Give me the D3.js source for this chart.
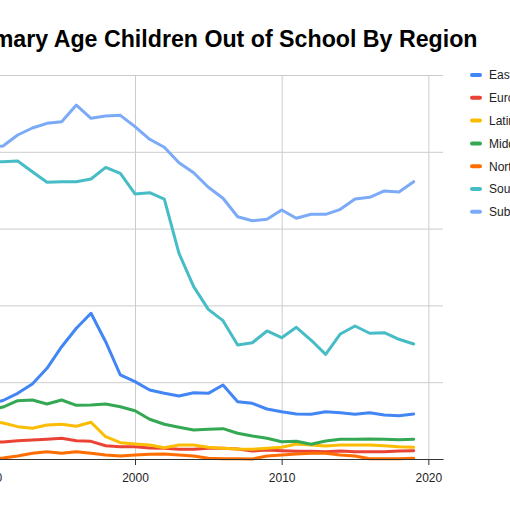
<!DOCTYPE html>
<html>
<head>
<meta charset="utf-8">
<script src="https://cdn.jsdelivr.net/npm/d3@7"></script>
<style>
  html, body { margin: 0; padding: 0; background: #fff; overflow: hidden; }
  svg { display: block; font-family: "Liberation Sans", Arial, sans-serif; }
  .grid line { stroke: #cccccc; stroke-width: 1; }
  .grid path { display: none; }
  .x-axis text, .legend text { fill: #222; font-size: 12px; }
  .region-line { fill: none; stroke-width: 3; stroke-linejoin: round; stroke-linecap: round; }
</style>
</head>
<body>
<div id="chart"></div>
<script>

// Years on the x axis
let years = [1990, 1991, 1992, 1993, 1994, 1995, 1996, 1997, 1998, 1999,
             2000, 2001, 2002, 2003, 2004, 2005, 2006, 2007, 2008, 2009,
             2010, 2011, 2012, 2013, 2014, 2015, 2016, 2017, 2018, 2019];

// Regions, in legend order
let regions = ["East Asia & Pacific", "Europe & Central Asia", "Latin America & Caribbean",
               "Middle East & North Africa", "North America", "South Asia", "Sub-Saharan Africa"];

// Out of school children, millions
let eastAsia = [7.16, 7.62, 8.55, 9.77, 11.81, 14.62, 17.02, 18.97, 15.27, 10.94,
                10.07, 8.98, 8.55, 8.20, 8.63, 8.55, 9.64, 7.46, 7.25, 6.51,
                6.16, 5.86, 5.82, 6.16, 6.03, 5.82, 6.03, 5.73, 5.64, 5.86];
let europe = [2.15, 2.21, 2.38, 2.47, 2.57, 2.70, 2.38, 2.30, 1.73, 1.60,
              1.60, 1.43, 1.39, 1.26, 1.26, 1.39, 1.39, 1.30, 1.04, 1.17,
              1.08, 1.00, 1.00, 0.95, 1.04, 0.95, 0.95, 0.95, 1.04, 1.08];
let latinAmerica = [4.95, 4.69, 4.21, 4.00, 4.43, 4.52, 4.26, 4.78, 2.90, 2.12,
                    1.95, 1.82, 1.47, 1.82, 1.82, 1.52, 1.39, 1.30, 1.26, 1.39,
                    1.52, 1.95, 1.82, 1.69, 1.82, 1.82, 1.82, 1.73, 1.60, 1.52];
let middleEast = [6.38, 6.77, 7.59, 7.68, 7.16, 7.68, 6.99, 7.03, 7.16, 6.81,
                  6.29, 5.17, 4.52, 4.13, 3.78, 3.87, 3.95, 3.35, 2.99, 2.70,
                  2.25, 2.30, 1.91, 2.34, 2.57, 2.57, 2.60, 2.57, 2.51, 2.57];
let northAmerica = [0.05, 0.12, 0.39, 0.74, 0.95, 0.74, 0.95, 0.74, 0.52, 0.39,
                    0.52, 0.61, 0.65, 0.52, 0.39, 0.09, 0.04, 0.04, 0.00, 0.39,
                    0.52, 0.65, 0.74, 0.74, 0.52, 0.39, 0.04, 0.04, 0.04, 0.09];
let southAsia = [38.67, 38.71, 38.80, 37.41, 36.03, 36.11, 36.11, 36.46, 37.98, 37.20,
                 34.51, 34.67, 33.85, 26.78, 22.44, 19.49, 18.01, 14.84, 15.14, 16.67,
                 15.79, 17.15, 15.49, 13.63, 16.28, 17.32, 16.37, 16.45, 15.59, 14.97];
let subSaharan = [40.63, 40.76, 42.19, 43.10, 43.71, 43.92, 46.09, 44.36, 44.66, 44.75,
                  43.27, 41.63, 40.59, 38.58, 37.28, 35.38, 33.95, 31.55, 31.03, 31.21,
                  32.42, 31.34, 31.86, 31.86, 32.51, 33.85, 34.08, 34.90, 34.77, 36.11];

let seriesValues = [eastAsia, europe, latinAmerica, middleEast, northAmerica, southAsia, subSaharan];

// Axis ticks
let xTicks = [1990, 2000, 2010, 2020];
let yTicks = [0, 10, 20, 30, 40, 50];

let colors = ["#4285F4", "#EA4335", "#FBBC04", "#34A853", "#FF6D01", "#46BDC6", "#7BAAF7"];

function chartRegions(width, height, selector) {

    ///////////////////////////////////////////
    //// Dimensions, scales and generators ////
    ///////////////////////////////////////////

    // The plot runs off the left side of the view
    let plot = { left: -41, right: 443, top: 75, bottom: 459 };

    let xPositionScale = d3.scaleLinear()
        .domain([1988, 2021])
        .range([plot.left, plot.right]);

    let yPositionScale = d3.scaleLinear()
        .domain([0, 50])
        .range([plot.bottom, plot.top]);

    let line = d3.line()
        .x((d, i) => xPositionScale(years[i]))
        .y(d => yPositionScale(d));

    //////////////////////////
    /// Building the chart ///
    //////////////////////////

    let svg = d3.select(selector)
        .append("svg")
        .attr("width", width)
        .attr("height", height);

    svg.append("text")
        .attr("x", 477.5)
        .attr("y", 46.5)
        .attr("text-anchor", "end")
        .attr("font-size", 23.2)
        .attr("font-weight", "bold")
        .attr("fill", "#000")
        .text("Primary Age Children Out of School By Region");

    // Horizontal grid lines
    svg.append("g")
        .attr("class", "grid")
        .attr("transform", "translate(" + plot.left + ",0)")
        .call(d3.axisLeft(yPositionScale)
            .tickValues(yTicks)
            .tickSize(-(plot.right - plot.left))
            .tickFormat(""));

    // Vertical grid lines
    svg.append("g")
        .attr("class", "grid")
        .attr("transform", "translate(0," + plot.bottom + ")")
        .call(d3.axisBottom(xPositionScale)
            .tickValues(xTicks)
            .tickSize(-(plot.bottom - plot.top))
            .tickFormat(""));

    // One line per region
    seriesValues.forEach(function(values, i) {
        svg.append("path")
            .attr("class", "region-line")
            .attr("stroke", colors[i])
            .attr("d", line(values));
    });

    // Baseline with ticks and year labels
    let xAxis = d3.axisBottom(xPositionScale)
        .tickValues(xTicks)
        .tickSize(6)
        .tickSizeOuter(0)
        .tickPadding(8)
        .tickFormat(d3.format("d"));

    let xAxisGroup = svg.append("g")
        .attr("class", "x-axis")
        .attr("transform", "translate(0," + plot.bottom + ")")
        .call(xAxis);

    xAxisGroup.select(".domain")
        .attr("stroke", "#333")
        .attr("stroke-width", 1.2);
    xAxisGroup.selectAll(".tick line")
        .attr("stroke", "#333");
    xAxisGroup.selectAll(".tick text")
        .attr("font-family", "Liberation Sans, Arial, sans-serif");

    // Legend
    let legend = svg.append("g")
        .attr("class", "legend")
        .attr("transform", "translate(470,75)");

    let items = legend.selectAll("g")
        .data(regions)
        .join("g")
        .attr("transform", (d, i) => "translate(0," + (i * 22.8) + ")");

    items.append("rect")
        .attr("x", 0)
        .attr("y", -2)
        .attr("width", 12)
        .attr("height", 4)
        .attr("rx", 2)
        .attr("fill", (d, i) => colors[i]);

    items.append("text")
        .attr("x", 19)
        .attr("dy", "0.36em")
        .text(d => d);
}

chartRegions(510, 510, "#chart");
</script>
</body>
</html>
